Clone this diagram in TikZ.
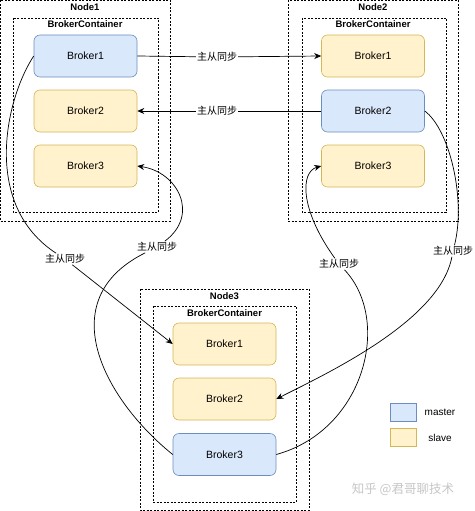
\documentclass[tikz,border=0pt]{standalone}
\usepackage{fontspec}
\setmainfont{Liberation Sans}
\newfontfamily\cjk{Noto Sans CJK SC}
\usetikzlibrary{arrows.meta}

\definecolor{mfill}{HTML}{DAE8FC}
\definecolor{mline}{HTML}{6C8EBF}
\definecolor{sfill}{HTML}{FFF2CC}
\definecolor{sline}{HTML}{D6B656}

\begin{document}
\begin{tikzpicture}[x=1pt, y=-1pt,
    outer/.style = {draw, dash pattern=on 2pt off 1.5pt, line width=0.7pt},
    broker/.style = {draw, rounded corners=6pt, minimum width=103pt, minimum height=42pt,
        line width=0.6pt, font=\fontsize{10.5}{12}\selectfont},
    master/.style = {broker, fill=mfill, draw=mline},
    slave/.style = {broker, fill=sfill, draw=sline},
    title/.style = {font=\fontsize{9.5}{11}\selectfont\bfseries},
    sync/.style = {fill=white, inner sep=1pt, font=\cjk\fontsize{10}{12}\selectfont},
    link/.style = {-{Stealth[length=7pt,width=6pt]}, line width=0.7pt}]
    \useasboundingbox (0,0) rectangle (474,511);

    % dashed boxes
    \draw[outer] (0.5,0.5) rectangle (170,221);
    \draw[outer] (13,18) rectangle (158,212);
    \draw[outer] (288,0.5) rectangle (458,221);
    \draw[outer] (302,18) rectangle (446,212);
    \draw[outer] (140,289) rectangle (309,510);
    \draw[outer] (153,306) rectangle (296,502);

    \node[title] (t1) at (85,7) {Node1};
    \node[title] (c1) at (85,24) {BrokerContainer};
    \node[title] (t2) at (373,7) {Node2};
    \node[title] (c2) at (373,24) {BrokerContainer};
    \node[title] (t3) at (224.5,296) {Node3};
    \node[title] (c3) at (224.5,313) {BrokerContainer};

    % brokers
    \node[master] (n1b1) at (85.5,56) {Broker1};
    \node[slave]  (n1b2) at (85.5,111) {Broker2};
    \node[slave]  (n1b3) at (85.5,166) {Broker3};
    \node[slave]  (n2b1) at (373,56) {Broker1};
    \node[master] (n2b2) at (373,111) {Broker2};
    \node[slave]  (n2b3) at (373,166) {Broker3};
    \node[slave]  (n3b1) at (224.5,344) {Broker1};
    \node[slave]  (n3b2) at (224.5,399) {Broker2};
    \node[master] (n3b3) at (224.5,454.5) {Broker3};

    % sync labels
    \node[sync] (s1) at (217,57) {主从同步};
    \node[sync] (s2) at (217,111) {主从同步};
    \node[sync] (s3) at (65,259) {主从同步};
    \node[sync] (s4) at (157,247) {主从同步};
    \node[sync] (s5) at (453,251) {主从同步};
    \node[sync] (s6) at (339,264) {主从同步};

    \draw[link] (n1b1.east) -- (s1) -- (n2b1.west);
    \draw[link] (n2b2.west) -- (s2) -- (n1b2.east);
    \draw[link] (n1b1.west) .. controls (5,100) and (-18,205) .. (s3) -- (n3b1.west);
    \draw[link] (n3b3.west) .. controls (105,400) and (50,300) .. (s4)
        .. controls (200,215) and (178,172) .. (n1b3.east);
    \draw[link] (n2b2.east) .. controls (450,130) and (466,200) .. (s5)
        .. controls (440,320) and (330,372) .. (n3b2.east);
    \draw[link] (n3b3.east) .. controls (365,430) and (392,320) .. (s6)
        .. controls (300,210) and (300,172) .. (n2b3.west);

    % legend
    \node[draw=mline, fill=mfill, minimum width=26pt, minimum height=18pt] (lm) at (403,412) {};
    \node[draw=sline, fill=sfill, minimum width=26pt, minimum height=18pt] (ls) at (403,437.5) {};
    \node[font=\fontsize{10}{12}\selectfont] (tm) at (440,412) {master};
    \node[font=\fontsize{10}{12}\selectfont] (ts) at (440,437.5) {slave};

    \node[text=gray!45, font=\cjk\fontsize{12.5}{14}\selectfont] (wm) at (403,489) {知乎 @君哥聊技术};
\end{tikzpicture}
\end{document}
